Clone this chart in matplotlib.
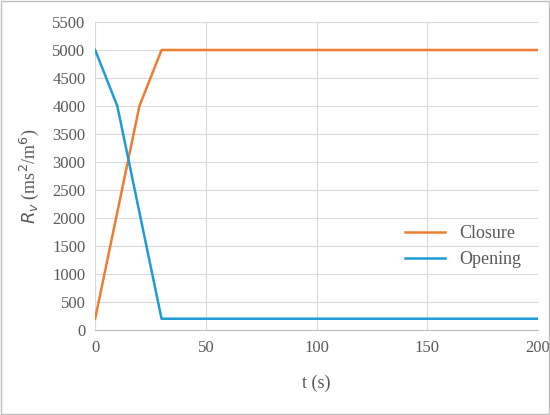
import matplotlib
matplotlib.use("Agg")
import matplotlib.pyplot as plt

closure_t = [0, 20, 30, 200]
closure_r = [200, 4000, 5000, 5000]
opening_t = [0, 10, 30, 200]
opening_r = [5000, 4000, 200, 200]
xticks = [0, 50, 100, 150, 200]
yticks = list(range(0, 5501, 500))

plt.rcParams['font.family'] = ['Liberation Serif', 'DejaVu Serif']
fig = plt.figure(figsize=(5.5, 4.15), dpi=100)
ax = fig.add_axes([0.173, 0.205, 0.805, 0.742])
ax.plot(closure_t, closure_r, color='#ED7D31', lw=1.8, label='Closure')
ax.plot(opening_t, opening_r, color='#1F9BD7', lw=1.8, label='Opening')
ax.set_xlim(0, 200)
ax.set_ylim(0, 5500)
ax.set_xticks(xticks)
ax.set_yticks(yticks)
ax.grid(True, color='#D9D9D9', lw=0.8)
ax.set_axisbelow(True)
for s in ['top', 'right', 'left']:
    ax.spines[s].set_visible(False)
ax.spines['bottom'].set_color('#BFBFBF')
ax.tick_params(length=0, labelsize=12, colors='#595959', pad=7)
ax.set_xlabel('t (s)', fontsize=13, color='#595959', labelpad=14)
ax.set_ylabel(r'$R_v$ (ms$^2$/m$^6$)', fontsize=13, color='#595959', labelpad=8)
ax.legend(loc='center right', bbox_to_anchor=(1.0, 0.27), frameon=False, fontsize=13,
          labelcolor='#595959', handlelength=2.2)
fig.patches.append(plt.Rectangle((0.002, 0.002), 0.996, 0.996, transform=fig.transFigure,
                                 fill=False, edgecolor='#BFBFBF', lw=1))
fig.savefig('out.png', dpi=100)
